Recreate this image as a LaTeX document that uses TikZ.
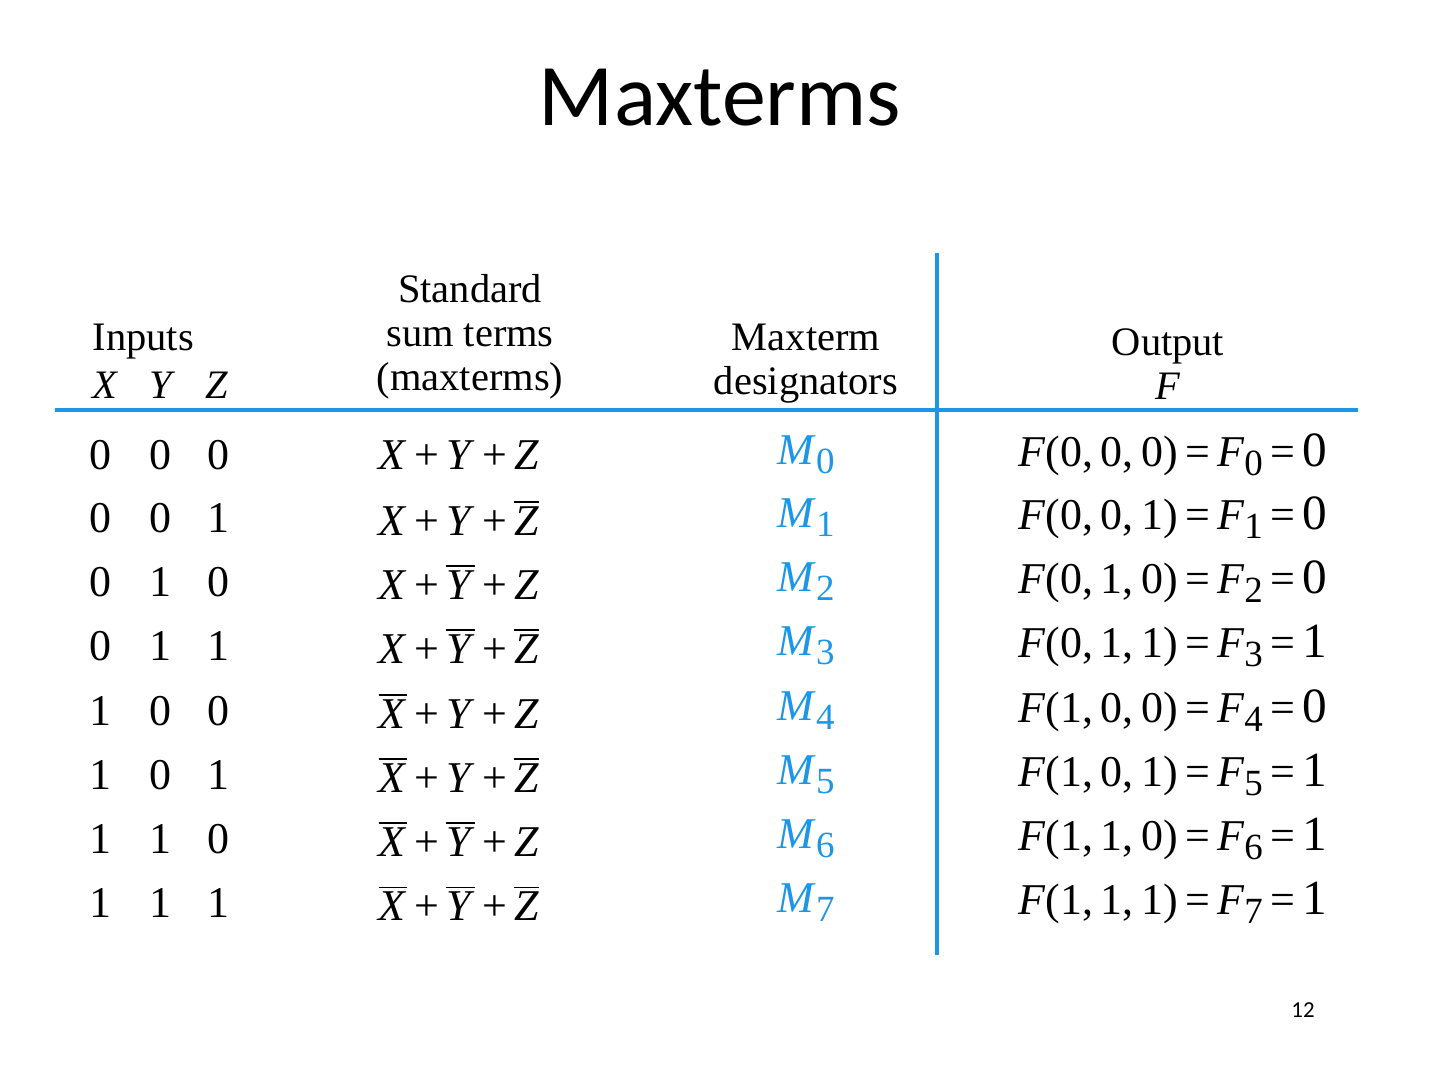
\documentclass[tikz,border=0pt]{standalone}
\usepackage{fontspec}
\setmainfont{Liberation Serif}
\newfontfamily\slidefont{Carlito}
\usetikzlibrary{positioning}
\definecolor{tblue}{RGB}{28,150,230}
\newcommand*{\V}[1]{\textit{#1}}
\newcommand*{\NV}[1]{$\overline{\mbox{\textit{#1}}}$}
\newcommand*{\Pl}{\,+\,}
\newcommand*{\Sub}[1]{\raisebox{-0.45ex}{\fontsize{10.5}{11}\selectfont #1}}
\tikzset{cell/.style={font=\fontsize{12.5}{14}\selectfont,inner sep=0pt},
  head/.style={font=\fontsize{11.5}{12.5}\selectfont,align=center,inner sep=0pt},
  rule/.style={tblue,line width=1.2pt}}

\begin{document}
\begin{tikzpicture}[x=0.01cm,y=-0.01cm]
    \useasboundingbox (0,0) rectangle (1440,1080);
    \node[font=\slidefont\fontsize{25}{28}\selectfont] (title) at (720,98) {Maxterms};
    \node[font=\slidefont\fontsize{6.5}{8}\selectfont] (page) at (1303,1010) {12};
    % headers
    \node[head,anchor=west] (hin) at (92,342) {Inputs};
    \node[head,anchor=west] (hxyz) at (92,385) {\V{X}\hspace{0.75em}\V{Y}\hspace{0.75em}\V{Z}};
    \node[head] (hsum) at (470,337) {Standard\\sum terms\\(maxterms)};
    \node[head] (hmax) at (806,364) {Maxterm\\designators};
    \node[head] (hout) at (1168,364) {Output\\\V{F}};
    % rules
    \coordinate (hl) at (55,410);
    \coordinate (hr) at (1358,410);
    \coordinate (vt) at (937,253);
    \coordinate (vb) at (937,955);
    \draw[rule] (hl) -- (hr);
    \draw[rule] (vt) -- (vb);
    % rows
    \foreach \i/\y/\a/\b/\c/\sa/\sb/\sc/\f in {
      0/455/0/0/0/\V/\V/\V/0, 1/518/0/0/1/\V/\V/\NV/0,
      2/582/0/1/0/\V/\NV/\V/0, 3/646/0/1/1/\V/\NV/\NV/1,
      4/711/1/0/0/\NV/\V/\V/0, 5/775/1/0/1/\NV/\V/\NV/1,
      6/839/1/1/0/\NV/\NV/\V/1, 7/903/1/1/1/\NV/\NV/\NV/1} {
      \node[cell] (x\i) at (100,\y) {\a};
      \node[cell] (y\i) at (160,\y) {\b};
      \node[cell] (z\i) at (218,\y) {\c};
      \node[cell,anchor=west] (s\i) at (378,\y) {\sa{X}\Pl\sb{Y}\Pl\sc{Z}};
      \node[cell,tblue] (m\i) at (806,\y) {\V{M}\Sub{\i}};
      \node[cell,anchor=west] (f\i) at (1018,\y)
        {\V{F}(\a,\,\b,\,\c)\,=\,\V{F}\Sub{\i}\,=\,{\fontsize{14}{16}\selectfont\f}};
    }
\end{tikzpicture}
\end{document}
